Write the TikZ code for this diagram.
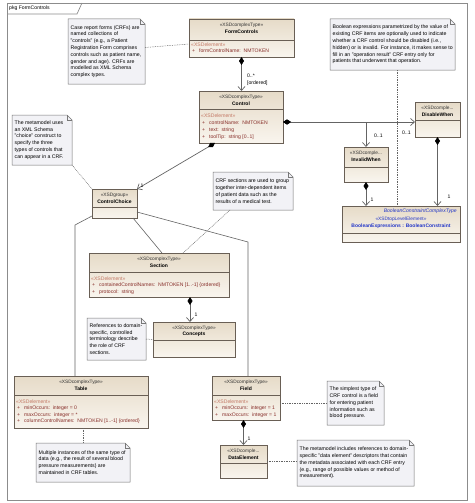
\documentclass[tikz,border=0pt]{standalone}
\usepackage{fontspec}
\setmainfont{Liberation Sans}
\usetikzlibrary{arrows.meta,shadows}

\definecolor{boxtop}{RGB}{230,219,200}
\definecolor{boxbot}{RGB}{249,245,238}
\definecolor{boxline}{RGB}{105,95,85}
\definecolor{notefill}{RGB}{242,242,246}
\definecolor{noteline}{RGB}{120,120,120}
\definecolor{attrcol}{RGB}{135,45,40}
\definecolor{attrhd}{RGB}{195,120,100}
\definecolor{linkcol}{RGB}{100,100,100}
\definecolor{bluetxt}{RGB}{35,55,200}
\definecolor{framecol}{RGB}{140,140,140}

\newcommand{\ntxt}{\fontsize{5.2}{6.8}\selectfont}
\newcommand{\atxt}{\fontsize{5.1}{6}\selectfont}
\newcommand{\stxt}{\fontsize{4.8}{6}\selectfont}
\newcommand{\ctxt}{\fontsize{5.0}{6}\selectfont\bfseries}
\newcommand{\abul}{\makebox[8pt][l]{\,+}}

\newcommand{\umlbox}[8]{%
  \node[classbox, minimum width={(#4-#2)*1pt}, minimum height={(#5-#3)*1pt}] (#1) at ({(#2+#4)/2},{(#3+#5)/2}) {};
  \draw[sepline] (#2,#6) -- (#4,#6);
  \node[stereo] (#1-st) at ({(#2+#4)/2},{#3+6}) {#7};
  \node[cname] (#1-nm) at ({(#2+#4)/2},{#3+12.5}) {#8};}

\newcommand{\umlnote}[6]{%
  \node[notearea, minimum width={(#4-#2)*1pt}, minimum height={(#5-#3)*1pt}] (#1) at ({(#2+#4)/2},{(#3+#5)/2}) {};
  \begin{scope}[xshift=1.3pt,yshift=-1.3pt]
    \fill[noteshadow] (#1.north west) -- ([xshift=-5pt]#1.north east) -- ([yshift=-5pt]#1.north east) -- (#1.south east) -- (#1.south west) -- cycle;
  \end{scope}
  \filldraw[notepath] (#1.north west) -- ([xshift=-5pt]#1.north east) -- ([yshift=-5pt]#1.north east) -- (#1.south east) -- (#1.south west) -- cycle;
  \draw[notepath,fill=none] ([xshift=-5pt]#1.north east) -- ([xshift=-5pt,yshift=-5pt]#1.north east) -- ([yshift=-5pt]#1.north east);
  \node[notetext] (#1-t) at ([xshift=2.5pt]#1.west) {#6};}

\tikzset{
 classbox/.style={draw=boxline, line width=0.6pt, top color=boxtop, bottom color=boxbot,
   drop shadow={shadow xshift=1.3pt, shadow yshift=-1.3pt, opacity=0.35, fill=black}, inner sep=0, outer sep=0},
 sepline/.style={draw=boxline, line width=0.5pt},
 stereo/.style={font=\stxt, text=black!80, inner sep=0},
 cname/.style={font=\ctxt, inner sep=0},
 attr/.style={anchor=west, font=\atxt, text=attrcol, inner sep=0},
 attrhead/.style={anchor=west, font=\atxt, text=attrhd, inner sep=0},
 notearea/.style={inner sep=0, outer sep=0},
 notepath/.style={draw=noteline, fill=notefill, line width=0.5pt},
 noteshadow/.style={fill=black, opacity=0.2},
 notetext/.style={anchor=west, align=left, font=\ntxt, inner sep=0},
 comp/.style={draw=linkcol, line width=0.7pt, {Diamond[length=8pt,width=5pt,color=black]}-{Straight Barb[length=4pt,width=7pt]}},
 assoc/.style={draw=linkcol, line width=0.6pt},
 notelink/.style={draw=linkcol, line width=0.5pt, dash pattern=on 0.8pt off 0.9pt},
 lbl/.style={font=\atxt, inner sep=0},
 frame/.style={draw=framecol, line width=0.7pt},
}

\begin{document}
\begin{tikzpicture}[x=1pt,y=-1pt]
\fill[white] (0,0) rectangle (474,503);
\useasboundingbox (0,0) rectangle (474,503);

% package frame
\draw[frame] (7,3) rectangle (467,500);
\draw[frame] (7,14) -- (77,14) -- (82,3);
\node[anchor=west, font=\atxt, inner sep=0] (pkg) at (9,8.5) {pkg FormControls};

% notes
\umlnote{n1}{68}{19}{145}{84}{Case report forms (CRFs) are\\named collections of\\"controls" (e.g., a Patient\\Registration Form  comprises\\controls such as patient name,\\gender and age). CRFs are\\modelled as XML Schema\\complex types.}
\umlnote{nb}{330}{19}{455}{70}{Boolean expressions parametrized by the value of\\existing CRF items are optionally used to indicate\\whether a CRF control should be disabled (i.e.,\\hidden) or is invalid. For instance, it makes sense to\\fill in an "operation result" CRF entry only for\\patients that underwent that operation.}
\umlnote{ncc}{12}{115}{72}{165}{The metamodel uses\\an XML Schema\\"choice" construct to\\specify the three\\types of controls that\\can appear in a CRF.}
\umlnote{nsec}{213}{172}{293}{210}{CRF sections are used to group\\together inter-dependent items\\of patient data such as the\\results of a medical test.}
\umlnote{ncp}{87}{318}{146}{360}{References to domain-\\specific, controlled\\terminology describe\\the role of CRF\\sections.}
\umlnote{ntb}{36}{443}{130}{482}{Multiple instances of the same type of\\data (e.g., the result of several blood\\pressure measurements) are\\maintained in CRF tables.}
\umlnote{nfd}{327}{381}{384}{425}{The simplest type of\\CRF control is a field\\for entering patient\\information such as\\blood pressure.}
\umlnote{nde}{297}{440}{414}{486}{The metamodel includes references to domain-\\specific "data element" descriptors that contain\\the metadata associated with each CRF entry\\(e.g., range of possible values or method of\\measurement).}

% classes
\umlbox{fc}{189}{19}{294}{57}{40}{«XSDcomplexType»}{FormControls}
\node[attrhead] (fc-a0) at (191,44.5) {«XSDelement»};
\node[attr] (fc-a1) at (191,51) {\abul formControlName:\ \ NMTOKEN};

\umlbox{ct}{199}{91}{283}{143}{109}{«XSDcomplexType»}{Control}
\node[attrhead] (ct-a0) at (201,116) {«XSDelement»};
\node[attr] (ct-a1) at (201,123) {\abul controlName:\ \ NMTOKEN};
\node[attr] (ct-a2) at (201,130) {\abul text:\ \ string};
\node[attr] (ct-a3) at (201,137) {\abul toolTip:\ \ string [0..1]};

\umlbox{dw}{415}{102}{460}{137}{120}{«XSDcomple...}{DisableWhen}
\umlbox{iw}{344}{147}{388}{182}{167}{«XSDcomple...}{InvalidWhen}

\node[classbox, minimum width=118pt, minimum height=36pt] (be) at (401,224) {};
\draw[sepline] (342,233) -- (460,233);
\node[anchor=east, font=\atxt\itshape, text=bluetxt, inner sep=0] (be-t) at (457,211) {BooleanConstraintComplexType};
\node[stereo, text=bluetxt] (be-st) at (401,219.5) {«XSDtopLevelElement»};
\node[cname, text=bluetxt] (be-nm) at (401,226.5) {BooleanExpressions : BooleanConstraint};

\umlbox{cc}{92}{189}{137}{218}{207}{«XSDgroup»}{ControlChoice}

\umlbox{sc}{89}{253}{229}{297}{272}{«XSDcomplexType»}{Section}
\node[attrhead] (sc-a0) at (91,278.5) {«XSDelement»};
\node[attr] (sc-a1) at (91,285.5) {\abul containedControlNames:\ \ NMTOKEN [1..-1] \{ordered\}};
\node[attr] (sc-a2) at (91,292) {\abul protocol:\ \ string};

\umlbox{cp}{153}{322}{235}{357}{340}{«XSDcomplexType»}{Concepts}

\umlbox{tb}{14}{376}{148}{428}{395}{«XSDcomplexType»}{Table}
\node[attrhead] (tb-a0) at (16,402) {«XSDelement»};
\node[attr] (tb-a1) at (16,408.5) {\abul minOccurs:\ \ integer = 0};
\node[attr] (tb-a2) at (16,415) {\abul maxOccurs:\ \ integer = *};
\node[attr] (tb-a3) at (16,421.5) {\abul columnControlNames:\ \ NMTOKEN [1..-1] \{ordered\}};

\umlbox{fd}{212}{376}{280}{420}{395}{«XSDcomplexType»}{Field}
\node[attrhead] (fd-a0) at (214,402) {«XSDelement»};
\node[attr] (fd-a1) at (214,408.5) {\abul minOccurs:\ \ integer = 1};
\node[attr] (fd-a2) at (214,415) {\abul maxOccurs:\ \ integer = 1};

\umlbox{de}{220}{445}{267}{478}{463}{«XSDcomple...}{DataElement}

% compositions
\draw[comp] (fc.south) -- (fc.south |- ct.north);
\coordinate (dwIn) at ([yshift=-2.5pt]dw.west);
\draw[comp] (ct.east |- dwIn) -| (iw.north);
\draw[comp] (ct.east |- dwIn) -- (dwIn);
\draw[comp] (dw.south) -- (dw.south |- be.north);
\draw[comp] (iw.south) -- (iw.south |- be.north);
\coordinate (ctD) at ([xshift=16pt]ct.south west);
\draw[comp] (ctD) -- (cc.north east);
\coordinate (scD) at ([xshift=31pt]sc.south);
\draw[comp] (scD) -- (scD |- cp.north);
\draw[comp] (de.north |- fd.south) -- (de.north);

% associations from ControlChoice
\coordinate (ccL) at ([yshift=2pt]cc.south west);
\coordinate (tbIn) at ([xshift=-6pt]tb.north);
\coordinate (bendT) at (75,225);
\draw[assoc] (ccL) -- (bendT) -- (tbIn);
\draw[assoc] ([xshift=-4pt]cc.south east) -- ([xshift=3pt]sc.north);
\coordinate (ccR) at ([yshift=-8.5pt]cc.east);
\coordinate (fdIn) at ([xshift=2pt]fd.north);
\coordinate (bendF) at (248,242);
\draw[assoc] (ccR) -- (bendF) -- (fdIn);

% labels
\node[lbl, anchor=west] (l1) at (247,76) {0..*};
\node[lbl, anchor=west] (l2) at (247,83) {[ordered]};
\node[lbl, anchor=west] (l3) at (374,135.5) {0..1};
\node[lbl, anchor=west] (l4) at (402,133) {0..1};
\node[lbl] (l5) at (142,186) {1};
\node[lbl] (l6) at (372,199.5) {1};
\node[lbl] (l7) at (449,197) {1};
\node[lbl] (l8) at (196,315) {1};
\node[lbl] (l9) at (249,439) {1};

% note links
\draw[notelink] ([yshift=4pt]n1.east) -- ([yshift=-6pt]fc.west);
\coordinate (nbOut) at ([xshift=4.5pt]nb.south);
\draw[notelink] (nbOut) -- (nbOut |- be.north);
\draw[notelink] (ncc.south east) -- (cc.north west);
\draw[notelink] ([xshift=-23pt]nsec.south) -- ([xshift=24pt]sc.north);
\draw[notelink] (ncp.east) -- (cp.west);
\draw[notelink] (tb.south -| ntb.north) -- (ntb.north);
\draw[notelink] (nfd.west -| fd.east) -- (nfd.west);
\draw[notelink] (de.east) -- (de.east -| nde.west);
\end{tikzpicture}
\end{document}
